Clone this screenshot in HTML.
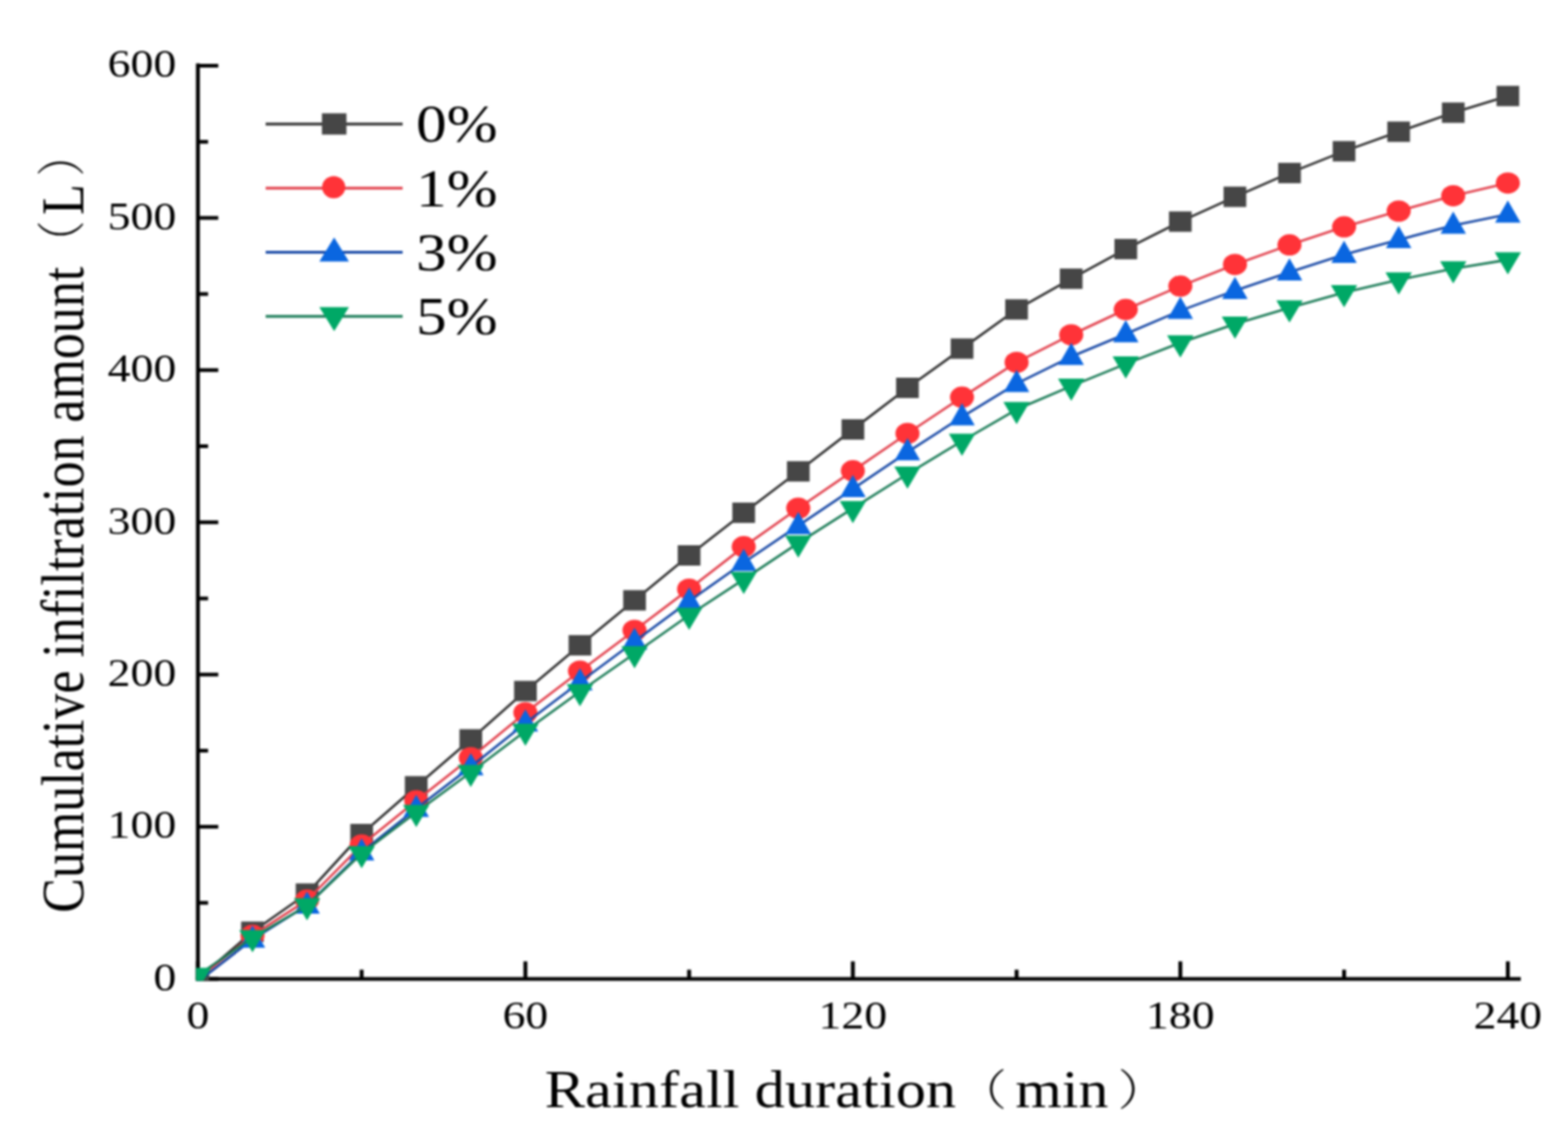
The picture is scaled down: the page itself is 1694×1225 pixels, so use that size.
<!DOCTYPE html>
<html><head><meta charset="utf-8"><style>html,body{margin:0;padding:0;background:#fff;}svg{display:block;}#c{filter:blur(0.8px);width:1694px;height:1225px;}</style></head>
<body><div id="c">
<svg width="1694" height="1225" viewBox="0 0 1694 1225">
<rect width="1694" height="1225" fill="#fff"/>
<line x1="213.8" y1="68.5" x2="213.8" y2="1059.6" stroke="#000" stroke-width="4.2"/>
<line x1="211.8" y1="1057.5" x2="1643" y2="1057.5" stroke="#000" stroke-width="4.2"/>
<line x1="213.8" y1="1057.5" x2="235.8" y2="1057.5" stroke="#000" stroke-width="4"/>
<line x1="213.8" y1="975.3" x2="224.8" y2="975.3" stroke="#000" stroke-width="4"/>
<line x1="213.8" y1="893.1" x2="235.8" y2="893.1" stroke="#000" stroke-width="4"/>
<line x1="213.8" y1="810.9" x2="224.8" y2="810.9" stroke="#000" stroke-width="4"/>
<line x1="213.8" y1="728.7" x2="235.8" y2="728.7" stroke="#000" stroke-width="4"/>
<line x1="213.8" y1="646.5" x2="224.8" y2="646.5" stroke="#000" stroke-width="4"/>
<line x1="213.8" y1="564.2" x2="235.8" y2="564.2" stroke="#000" stroke-width="4"/>
<line x1="213.8" y1="482.0" x2="224.8" y2="482.0" stroke="#000" stroke-width="4"/>
<line x1="213.8" y1="399.8" x2="235.8" y2="399.8" stroke="#000" stroke-width="4"/>
<line x1="213.8" y1="317.6" x2="224.8" y2="317.6" stroke="#000" stroke-width="4"/>
<line x1="213.8" y1="235.4" x2="235.8" y2="235.4" stroke="#000" stroke-width="4"/>
<line x1="213.8" y1="153.2" x2="224.8" y2="153.2" stroke="#000" stroke-width="4"/>
<line x1="213.8" y1="71.0" x2="235.8" y2="71.0" stroke="#000" stroke-width="4"/>
<line x1="213.8" y1="1057.5" x2="213.8" y2="1038.5" stroke="#000" stroke-width="4.2"/>
<line x1="390.7" y1="1057.5" x2="390.7" y2="1047.5" stroke="#000" stroke-width="4.2"/>
<line x1="567.6" y1="1057.5" x2="567.6" y2="1038.5" stroke="#000" stroke-width="4.2"/>
<line x1="744.5" y1="1057.5" x2="744.5" y2="1047.5" stroke="#000" stroke-width="4.2"/>
<line x1="921.4" y1="1057.5" x2="921.4" y2="1038.5" stroke="#000" stroke-width="4.2"/>
<line x1="1098.3" y1="1057.5" x2="1098.3" y2="1047.5" stroke="#000" stroke-width="4.2"/>
<line x1="1275.2" y1="1057.5" x2="1275.2" y2="1038.5" stroke="#000" stroke-width="4.2"/>
<line x1="1452.1" y1="1057.5" x2="1452.1" y2="1047.5" stroke="#000" stroke-width="4.2"/>
<line x1="1629.0" y1="1057.5" x2="1629.0" y2="1038.5" stroke="#000" stroke-width="4.2"/>
<defs><clipPath id="cp"><rect x="211.7" y="0" width="1500" height="1059.6"/></clipPath></defs>
<g clip-path="url(#cp)">
<polyline points="213.8,1057.5 272.8,1006.5 331.7,965.3 390.7,901.0 449.7,849.4 508.6,798.7 567.6,746.5 626.6,697.1 685.5,648.5 744.5,600.0 803.5,553.9 862.4,509.2 921.4,463.9 980.4,419.0 1039.3,376.6 1098.3,334.3 1157.3,301.1 1216.2,269.1 1275.2,239.4 1334.2,212.6 1393.1,186.9 1452.1,163.4 1511.1,142.3 1570.0,121.7 1629.0,103.7" fill="none" stroke="#303030" stroke-width="2.6" stroke-linejoin="round"/>
<rect x="201.6" y="1046.5" width="24.5" height="22" fill="#464646"/>
<rect x="260.5" y="995.5" width="24.5" height="22" fill="#464646"/>
<rect x="319.5" y="954.3" width="24.5" height="22" fill="#464646"/>
<rect x="378.5" y="890.0" width="24.5" height="22" fill="#464646"/>
<rect x="437.4" y="838.4" width="24.5" height="22" fill="#464646"/>
<rect x="496.4" y="787.7" width="24.5" height="22" fill="#464646"/>
<rect x="555.4" y="735.5" width="24.5" height="22" fill="#464646"/>
<rect x="614.3" y="686.1" width="24.5" height="22" fill="#464646"/>
<rect x="673.3" y="637.5" width="24.5" height="22" fill="#464646"/>
<rect x="732.2" y="589.0" width="24.5" height="22" fill="#464646"/>
<rect x="791.2" y="542.9" width="24.5" height="22" fill="#464646"/>
<rect x="850.2" y="498.2" width="24.5" height="22" fill="#464646"/>
<rect x="909.2" y="452.9" width="24.5" height="22" fill="#464646"/>
<rect x="968.1" y="408.0" width="24.5" height="22" fill="#464646"/>
<rect x="1027.1" y="365.6" width="24.5" height="22" fill="#464646"/>
<rect x="1086.0" y="323.3" width="24.5" height="22" fill="#464646"/>
<rect x="1145.0" y="290.1" width="24.5" height="22" fill="#464646"/>
<rect x="1204.0" y="258.1" width="24.5" height="22" fill="#464646"/>
<rect x="1262.9" y="228.4" width="24.5" height="22" fill="#464646"/>
<rect x="1321.9" y="201.6" width="24.5" height="22" fill="#464646"/>
<rect x="1380.9" y="175.9" width="24.5" height="22" fill="#464646"/>
<rect x="1439.8" y="152.4" width="24.5" height="22" fill="#464646"/>
<rect x="1498.8" y="131.3" width="24.5" height="22" fill="#464646"/>
<rect x="1557.8" y="110.7" width="24.5" height="22" fill="#464646"/>
<rect x="1616.8" y="92.7" width="24.5" height="22" fill="#464646"/>
<polyline points="213.8,1057.5 272.8,1010.3 331.7,972.3 390.7,912.8 449.7,865.0 508.6,818.4 567.6,770.0 626.6,725.0 685.5,681.0 744.5,636.4 803.5,590.6 862.4,549.0 921.4,508.6 980.4,468.2 1039.3,429.1 1098.3,391.4 1157.3,361.7 1216.2,334.3 1275.2,309.1 1334.2,285.7 1393.1,264.6 1452.1,245.1 1511.1,228.0 1570.0,211.4 1629.0,197.7" fill="none" stroke="#e2424e" stroke-width="2.6" stroke-linejoin="round"/>
<ellipse cx="272.8" cy="1010.3" rx="13" ry="11.5" fill="#ff3338"/>
<ellipse cx="331.7" cy="972.3" rx="13" ry="11.5" fill="#ff3338"/>
<ellipse cx="390.7" cy="912.8" rx="13" ry="11.5" fill="#ff3338"/>
<ellipse cx="449.7" cy="865.0" rx="13" ry="11.5" fill="#ff3338"/>
<ellipse cx="508.6" cy="818.4" rx="13" ry="11.5" fill="#ff3338"/>
<ellipse cx="567.6" cy="770.0" rx="13" ry="11.5" fill="#ff3338"/>
<ellipse cx="626.6" cy="725.0" rx="13" ry="11.5" fill="#ff3338"/>
<ellipse cx="685.5" cy="681.0" rx="13" ry="11.5" fill="#ff3338"/>
<ellipse cx="744.5" cy="636.4" rx="13" ry="11.5" fill="#ff3338"/>
<ellipse cx="803.5" cy="590.6" rx="13" ry="11.5" fill="#ff3338"/>
<ellipse cx="862.4" cy="549.0" rx="13" ry="11.5" fill="#ff3338"/>
<ellipse cx="921.4" cy="508.6" rx="13" ry="11.5" fill="#ff3338"/>
<ellipse cx="980.4" cy="468.2" rx="13" ry="11.5" fill="#ff3338"/>
<ellipse cx="1039.3" cy="429.1" rx="13" ry="11.5" fill="#ff3338"/>
<ellipse cx="1098.3" cy="391.4" rx="13" ry="11.5" fill="#ff3338"/>
<ellipse cx="1157.3" cy="361.7" rx="13" ry="11.5" fill="#ff3338"/>
<ellipse cx="1216.2" cy="334.3" rx="13" ry="11.5" fill="#ff3338"/>
<ellipse cx="1275.2" cy="309.1" rx="13" ry="11.5" fill="#ff3338"/>
<ellipse cx="1334.2" cy="285.7" rx="13" ry="11.5" fill="#ff3338"/>
<ellipse cx="1393.1" cy="264.6" rx="13" ry="11.5" fill="#ff3338"/>
<ellipse cx="1452.1" cy="245.1" rx="13" ry="11.5" fill="#ff3338"/>
<ellipse cx="1511.1" cy="228.0" rx="13" ry="11.5" fill="#ff3338"/>
<ellipse cx="1570.0" cy="211.4" rx="13" ry="11.5" fill="#ff3338"/>
<ellipse cx="1629.0" cy="197.7" rx="13" ry="11.5" fill="#ff3338"/>
<polyline points="213.8,1060.5 272.8,1014.8 331.7,978.0 390.7,920.4 449.7,873.6 508.6,828.4 567.6,781.2 626.6,736.7 685.5,693.0 744.5,649.4 803.5,607.7 862.4,567.9 921.4,528.1 980.4,488.3 1039.3,450.4 1098.3,414.4 1157.3,385.3 1216.2,360.7 1275.2,335.6 1334.2,313.9 1393.1,293.9 1452.1,275.0 1511.1,259.0 1570.0,243.6 1629.0,231.6" fill="none" stroke="#1a4aa6" stroke-width="2.6" stroke-linejoin="round"/>
<polygon points="272.8,999.8 286.5,1023.8 259.0,1023.8" fill="#0a66e0"/>
<polygon points="331.7,963.0 345.5,987.0 318.0,987.0" fill="#0a66e0"/>
<polygon points="390.7,905.4 404.5,929.4 377.0,929.4" fill="#0a66e0"/>
<polygon points="449.7,858.6 463.4,882.6 435.9,882.6" fill="#0a66e0"/>
<polygon points="508.6,813.4 522.4,837.4 494.9,837.4" fill="#0a66e0"/>
<polygon points="567.6,766.2 581.4,790.2 553.9,790.2" fill="#0a66e0"/>
<polygon points="626.6,721.7 640.3,745.7 612.8,745.7" fill="#0a66e0"/>
<polygon points="685.5,678.0 699.3,702.0 671.8,702.0" fill="#0a66e0"/>
<polygon points="744.5,634.4 758.2,658.4 730.8,658.4" fill="#0a66e0"/>
<polygon points="803.5,592.7 817.2,616.7 789.7,616.7" fill="#0a66e0"/>
<polygon points="862.4,552.9 876.2,576.9 848.7,576.9" fill="#0a66e0"/>
<polygon points="921.4,513.1 935.2,537.1 907.7,537.1" fill="#0a66e0"/>
<polygon points="980.4,473.3 994.1,497.3 966.6,497.3" fill="#0a66e0"/>
<polygon points="1039.3,435.4 1053.1,459.4 1025.6,459.4" fill="#0a66e0"/>
<polygon points="1098.3,399.4 1112.0,423.4 1084.5,423.4" fill="#0a66e0"/>
<polygon points="1157.3,370.3 1171.0,394.3 1143.5,394.3" fill="#0a66e0"/>
<polygon points="1216.2,345.7 1230.0,369.7 1202.5,369.7" fill="#0a66e0"/>
<polygon points="1275.2,320.6 1288.9,344.6 1261.4,344.6" fill="#0a66e0"/>
<polygon points="1334.2,298.9 1347.9,322.9 1320.4,322.9" fill="#0a66e0"/>
<polygon points="1393.1,278.9 1406.9,302.9 1379.4,302.9" fill="#0a66e0"/>
<polygon points="1452.1,260.0 1465.8,284.0 1438.3,284.0" fill="#0a66e0"/>
<polygon points="1511.1,244.0 1524.8,268.0 1497.3,268.0" fill="#0a66e0"/>
<polygon points="1570.0,228.6 1583.8,252.6 1556.3,252.6" fill="#0a66e0"/>
<polygon points="1629.0,216.6 1642.8,240.6 1615.2,240.6" fill="#0a66e0"/>
<polyline points="213.8,1053.5 272.8,1012.8 331.7,978.3 390.7,922.0 449.7,877.5 508.6,834.3 567.6,789.8 626.6,747.0 685.5,706.0 744.5,664.5 803.5,625.8 862.4,586.6 921.4,549.2 980.4,512.0 1039.3,476.5 1098.3,442.3 1157.3,417.1 1216.2,393.1 1275.2,370.3 1334.2,350.0 1393.1,332.6 1452.1,316.0 1511.1,302.3 1570.0,290.3 1629.0,280.6" fill="none" stroke="#1c7c58" stroke-width="2.6" stroke-linejoin="round"/>
<polygon points="199.6,1045.5 228.1,1045.5 213.8,1069.5" fill="#00a866"/>
<polygon points="258.5,1004.8 287.0,1004.8 272.8,1028.8" fill="#00a866"/>
<polygon points="317.5,970.3 346.0,970.3 331.7,994.3" fill="#00a866"/>
<polygon points="376.5,914.0 405.0,914.0 390.7,938.0" fill="#00a866"/>
<polygon points="435.4,869.5 463.9,869.5 449.7,893.5" fill="#00a866"/>
<polygon points="494.4,826.3 522.9,826.3 508.6,850.3" fill="#00a866"/>
<polygon points="553.4,781.8 581.9,781.8 567.6,805.8" fill="#00a866"/>
<polygon points="612.3,739.0 640.8,739.0 626.6,763.0" fill="#00a866"/>
<polygon points="671.3,698.0 699.8,698.0 685.5,722.0" fill="#00a866"/>
<polygon points="730.2,656.5 758.8,656.5 744.5,680.5" fill="#00a866"/>
<polygon points="789.2,617.8 817.7,617.8 803.5,641.8" fill="#00a866"/>
<polygon points="848.2,578.6 876.7,578.6 862.4,602.6" fill="#00a866"/>
<polygon points="907.2,541.2 935.7,541.2 921.4,565.2" fill="#00a866"/>
<polygon points="966.1,504.0 994.6,504.0 980.4,528.0" fill="#00a866"/>
<polygon points="1025.1,468.5 1053.6,468.5 1039.3,492.5" fill="#00a866"/>
<polygon points="1084.0,434.3 1112.5,434.3 1098.3,458.3" fill="#00a866"/>
<polygon points="1143.0,409.1 1171.5,409.1 1157.3,433.1" fill="#00a866"/>
<polygon points="1202.0,385.1 1230.5,385.1 1216.2,409.1" fill="#00a866"/>
<polygon points="1260.9,362.3 1289.4,362.3 1275.2,386.3" fill="#00a866"/>
<polygon points="1319.9,342.0 1348.4,342.0 1334.2,366.0" fill="#00a866"/>
<polygon points="1378.9,324.6 1407.4,324.6 1393.1,348.6" fill="#00a866"/>
<polygon points="1437.8,308.0 1466.3,308.0 1452.1,332.0" fill="#00a866"/>
<polygon points="1496.8,294.3 1525.3,294.3 1511.1,318.3" fill="#00a866"/>
<polygon points="1555.8,282.3 1584.3,282.3 1570.0,306.3" fill="#00a866"/>
<polygon points="1614.8,272.6 1643.2,272.6 1629.0,296.6" fill="#00a866"/>
</g>
<text transform="translate(190.5,1069.8) scale(1.15,1)" text-anchor="end" font-size="43" font-family="'Liberation Serif','Noto Serif CJK SC',serif">0</text>
<text transform="translate(190.5,905.4) scale(1.15,1)" text-anchor="end" font-size="43" font-family="'Liberation Serif','Noto Serif CJK SC',serif">100</text>
<text transform="translate(190.5,741.0) scale(1.15,1)" text-anchor="end" font-size="43" font-family="'Liberation Serif','Noto Serif CJK SC',serif">200</text>
<text transform="translate(190.5,576.5) scale(1.15,1)" text-anchor="end" font-size="43" font-family="'Liberation Serif','Noto Serif CJK SC',serif">300</text>
<text transform="translate(190.5,412.1) scale(1.15,1)" text-anchor="end" font-size="43" font-family="'Liberation Serif','Noto Serif CJK SC',serif">400</text>
<text transform="translate(190.5,247.7) scale(1.15,1)" text-anchor="end" font-size="43" font-family="'Liberation Serif','Noto Serif CJK SC',serif">500</text>
<text transform="translate(190.5,83.3) scale(1.15,1)" text-anchor="end" font-size="43" font-family="'Liberation Serif','Noto Serif CJK SC',serif">600</text>
<text transform="translate(213.8,1111.3) scale(1.15,1)" text-anchor="middle" font-size="43" font-family="'Liberation Serif','Noto Serif CJK SC',serif">0</text>
<text transform="translate(567.6,1111.3) scale(1.15,1)" text-anchor="middle" font-size="43" font-family="'Liberation Serif','Noto Serif CJK SC',serif">60</text>
<text transform="translate(921.4,1111.3) scale(1.15,1)" text-anchor="middle" font-size="43" font-family="'Liberation Serif','Noto Serif CJK SC',serif">120</text>
<text transform="translate(1275.2,1111.3) scale(1.15,1)" text-anchor="middle" font-size="43" font-family="'Liberation Serif','Noto Serif CJK SC',serif">180</text>
<text transform="translate(1629.0,1111.3) scale(1.15,1)" text-anchor="middle" font-size="43" font-family="'Liberation Serif','Noto Serif CJK SC',serif">240</text>
<text transform="translate(588.5,1196.3) scale(1.1465,1)" font-size="57" font-family="'Liberation Serif','Noto Serif CJK SC',serif">Rainfall duration</text>
<text transform="translate(1034.7,1194.3) scale(1.14,1)" font-size="46.5" font-family="'Noto Serif CJK SC',serif" font-weight="200">（</text>
<text transform="translate(1097.1,1196.3) scale(1.131,1)" font-size="57" font-family="'Liberation Serif','Noto Serif CJK SC',serif">min</text>
<text transform="translate(1207.6,1194.3) scale(1.14,1)" font-size="46.5" font-family="'Noto Serif CJK SC',serif" font-weight="200">）</text>
<text transform="translate(90.2,986) scale(1.14,0.984) rotate(-90)" font-size="57" font-family="'Liberation Serif','Noto Serif CJK SC',serif">Cumulative infiltration amount</text>
<text transform="translate(85.5,284.8) scale(1.14,1) rotate(-90)" font-size="46.5" font-family="'Noto Serif CJK SC',serif" font-weight="200">（</text>
<text transform="translate(90.2,232) scale(1.14,0.95) rotate(-90)" font-size="57" font-family="'Liberation Serif','Noto Serif CJK SC',serif">L</text>
<text transform="translate(85.5,190.5) scale(1.14,1) rotate(-90)" font-size="46.5" font-family="'Noto Serif CJK SC',serif" font-weight="200">）</text>
<line x1="287" y1="133.9" x2="435" y2="133.9" stroke="#303030" stroke-width="3.0"/>
<rect x="347.8" y="122.4" width="26.5" height="23" fill="#464646"/>
<text transform="translate(449.5,153.4) scale(1.15,1)" font-size="57.5" font-family="'Liberation Serif','Noto Serif CJK SC',serif">0%</text>
<line x1="287" y1="203.2" x2="435" y2="203.2" stroke="#e2424e" stroke-width="3.0"/>
<ellipse cx="360.5" cy="202.2" rx="12.5" ry="12" fill="#ff3338"/>
<text transform="translate(449.5,222.7) scale(1.15,1)" font-size="57.5" font-family="'Liberation Serif','Noto Serif CJK SC',serif">1%</text>
<line x1="287" y1="272.5" x2="435" y2="272.5" stroke="#1a4aa6" stroke-width="3.0"/>
<polygon points="361.0,256.5 377.0,282.5 345.0,282.5" fill="#0a66e0"/>
<text transform="translate(449.5,292.0) scale(1.15,1)" font-size="57.5" font-family="'Liberation Serif','Noto Serif CJK SC',serif">3%</text>
<line x1="287" y1="341.8" x2="435" y2="341.8" stroke="#1c7c58" stroke-width="3.0"/>
<polygon points="345.0,331.8 377.0,331.8 361.0,357.8" fill="#00a866"/>
<text transform="translate(449.5,361.3) scale(1.15,1)" font-size="57.5" font-family="'Liberation Serif','Noto Serif CJK SC',serif">5%</text>
</svg>
</div></body></html>
